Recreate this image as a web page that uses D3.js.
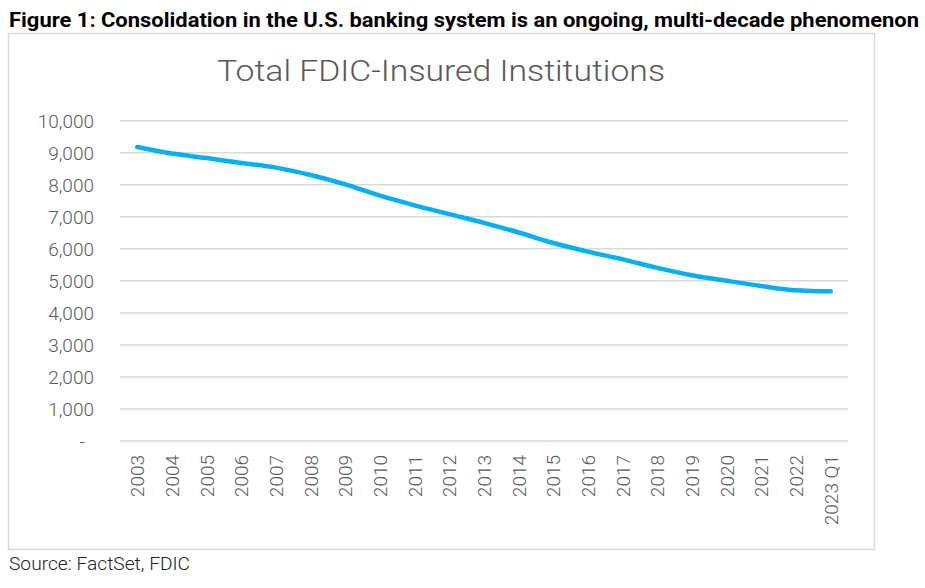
<!DOCTYPE html>
<html>
<head>
<meta charset="utf-8">
<script src="https://cdn.jsdelivr.net/npm/d3@7"></script>
<style>
  body { margin: 0; background: #fff; }
  svg text { font-family: Roboto, "Open Sans", sans-serif; }
</style>
</head>
<body>
<div id="chart"></div>
<script>
// data
const categories = ["2003", "2004", "2005", "2006", "2007", "2008", "2009", "2010", "2011", "2012",
  "2013", "2014", "2015", "2016", "2017", "2018", "2019", "2020", "2021", "2022", "2023 Q1"];
const institutions = [9181, 8976, 8833, 8680, 8534, 8305, 8012, 7658, 7357, 7083,
  6812, 6509, 6182, 5913, 5670, 5406, 5177, 5002, 4839, 4706, 4672];
const yTicks = [0, 1000, 2000, 3000, 4000, 5000, 6000, 7000, 8000, 9000, 10000];

const width = 925, height = 588;

const svg = d3.select("#chart").append("svg")
    .attr("width", width)
    .attr("height", height);

// figure title (condensed bold)
svg.append("text")
    .attr("x", 9)
    .attr("y", 27)
    .attr("textLength", 910)
    .attr("lengthAdjust", "spacingAndGlyphs")
    .style("font-family", "Roboto, sans-serif")
    .style("font-weight", "bold")
    .style("font-size", "21px")
    .style("fill", "#000")
    .text("Figure 1: Consolidation in the U.S. banking system is an ongoing, multi-decade phenomenon");

// chart box
svg.append("rect")
    .attr("x", 8.5)
    .attr("y", 33.5)
    .attr("width", 866)
    .attr("height", 516)
    .attr("fill", "#fff")
    .attr("stroke", "#d9d9d9")
    .attr("stroke-width", 1.5);

// chart title
svg.append("text")
    .attr("x", 217)
    .attr("y", 81)
    .attr("textLength", 448)
    .attr("lengthAdjust", "spacingAndGlyphs")
    .style("font-size", "29px")
    .style("font-weight", 300)
    .style("fill", "#595959")
    .text("Total FDIC-Insured Institutions");

const x = d3.scaleBand()
    .domain(categories)
    .range([120, 848]);

const y = d3.scaleLinear()
    .domain([0, 10000])
    .range([441, 120.7]);

// gridlines
svg.append("g")
    .selectAll("line")
    .data(yTicks)
    .enter().append("line")
    .attr("x1", 120)
    .attr("x2", 848)
    .attr("y1", d => y(d))
    .attr("y2", d => y(d))
    .attr("stroke", "#d9d9d9")
    .attr("stroke-width", 1.5);

// y labels
svg.append("g")
    .selectAll("text")
    .data(yTicks)
    .enter().append("text")
    .attr("x", d => d === 0 ? 85 : 94)
    .attr("y", d => y(d) + 7)
    .attr("text-anchor", "end")
    .style("font-size", "19px")
    .style("font-weight", 300)
    .style("fill", "#595959")
    .text(d => d === 0 ? "-" : d3.format(",")(d));

// x labels
svg.append("g")
    .selectAll("text")
    .data(categories)
    .enter().append("text")
    .attr("transform", d => `translate(${x(d) + x.bandwidth() / 2 + 7}, 455) rotate(-90)`)
    .attr("text-anchor", "end")
    .style("font-size", "19px")
    .style("font-weight", 300)
    .style("fill", "#595959")
    .text(d => d);

// line
const line = d3.line()
    .x((d, i) => x(categories[i]) + x.bandwidth() / 2)
    .y(d => y(d))
    .curve(d3.curveMonotoneX);

svg.append("path")
    .datum(institutions)
    .attr("d", line)
    .attr("fill", "none")
    .attr("stroke", "#00b0f0")
    .attr("stroke-width", 4.5)
    .attr("stroke-linecap", "round")
    .attr("stroke-linejoin", "round");

// source
svg.append("text")
    .attr("x", 9)
    .attr("y", 570)
    .style("font-size", "19.2px")
    .style("font-weight", 300)
    .style("fill", "#222")
    .text("Source: FactSet, FDIC");
</script>
</body>
</html>
